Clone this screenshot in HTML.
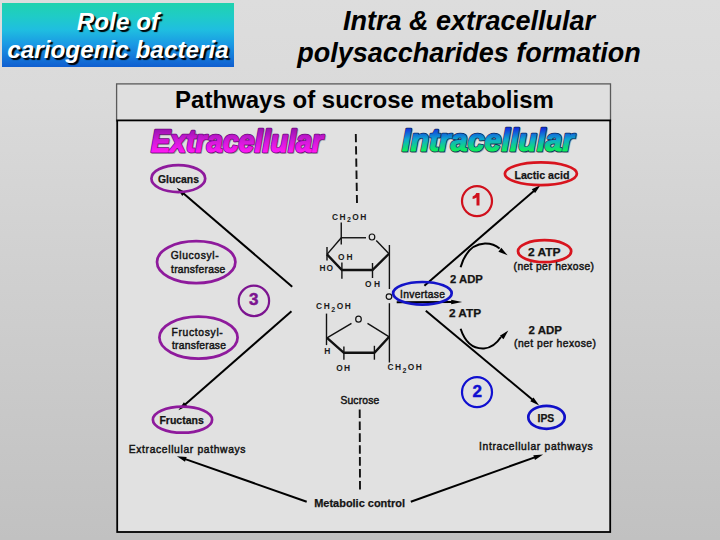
<!DOCTYPE html>
<html><head><meta charset="utf-8">
<style>
html,body{margin:0;padding:0;}
body{width:720px;height:540px;overflow:hidden;position:relative;
background:linear-gradient(to bottom,#dddddd 0%,#dadada 18%,#d0d0d0 50%,#c1c1c1 100%);
font-family:"Liberation Sans",sans-serif;}
#rb{position:absolute;left:2px;top:3px;width:232px;height:64px;
background:linear-gradient(to bottom,#20d2ae 0%,#1fcbc8 22%,#1fbee0 42%,#1a98e4 65%,#0f5ed0 100%);}
.t{position:absolute;white-space:nowrap;}
#rb1,#rb2{position:absolute;color:#fff;font-style:italic;font-weight:bold;font-size:24.3px;
text-shadow:2px 2px 1px #000;left:0;width:232px;text-align:center;line-height:28px;}
#ti{position:absolute;left:269px;width:400px;text-align:center;font-weight:bold;font-style:italic;
font-size:27px;line-height:31.5px;top:6px;color:#000;}
#hdr{position:absolute;left:116px;top:83px;width:495px;height:36px;}
#hdrt{position:absolute;left:1px;width:495px;top:5px;text-align:center;font-weight:bold;font-size:24px;line-height:24px;color:#000;}
svg{position:absolute;left:0;top:0;}
</style></head><body>
<div id="rb"><div id="rb1" style="top:4.5px">Role of</div><div id="rb2" style="top:33px">cariogenic bacteria</div></div>
<div id="ti">Intra &amp; extracellular<br>polysaccharides formation</div>
<svg width="720" height="540" style="position:absolute;left:0;top:0">
<rect x="116.6" y="83.9" width="493.9" height="37" fill="#dfdfdf" stroke="#5a5a5a" stroke-width="1.3"/>
<rect x="117.2" y="120.4" width="493" height="411.6" fill="#e1e1e1" stroke="#000" stroke-width="1.8"/>
</svg>
<div id="hdr"><div id="hdrt">Pathways of sucrose metabolism</div></div>
<svg width="720" height="540" viewBox="0 0 720 540">
<defs>
<linearGradient id="gx" gradientUnits="userSpaceOnUse" x1="0" y1="129" x2="0" y2="152">
<stop offset="0" stop-color="#9a14b0"/><stop offset="0.5" stop-color="#d01ad8"/><stop offset="1" stop-color="#ff18f4"/>
</linearGradient>
<linearGradient id="gi" gradientUnits="userSpaceOnUse" x1="0" y1="127.5" x2="0" y2="151">
<stop offset="0" stop-color="#1428e0"/><stop offset="0.5" stop-color="#10a8d0"/><stop offset="1" stop-color="#10f05a"/>
</linearGradient>
</defs>
<!-- WordArt -->
<g font-family="Liberation Sans" font-weight="bold" font-style="italic" font-size="32" stroke-linejoin="round">
<text x="152" y="153" textLength="172" lengthAdjust="spacingAndGlyphs" fill="#000" fill-opacity="0.25" stroke="#000" stroke-opacity="0.25" stroke-width="2">Extracellular</text>
<text x="151" y="151.7" textLength="172" lengthAdjust="spacingAndGlyphs" fill="#6a0a7a" stroke="#6a0a7a" stroke-width="2.6">Extracellular</text>
<text x="151" y="151.7" textLength="172" lengthAdjust="spacingAndGlyphs" fill="url(#gx)" stroke="url(#gx)" stroke-width="1.2">Extracellular</text>
<text x="403" y="151.5" textLength="172" lengthAdjust="spacingAndGlyphs" fill="#000" fill-opacity="0.25" stroke="#000" stroke-opacity="0.25" stroke-width="2">Intracellular</text>
<text x="402" y="150.6" textLength="172" lengthAdjust="spacingAndGlyphs" fill="#0a2a5a" stroke="#0a2a5a" stroke-width="2.6">Intracellular</text>
<text x="402" y="150.6" textLength="172" lengthAdjust="spacingAndGlyphs" fill="url(#gi)" stroke="url(#gi)" stroke-width="1.2">Intracellular</text>
</g>
<!-- dashed -->
<line x1="355.8" y1="134" x2="357" y2="203" stroke="#111" stroke-width="1.9" stroke-dasharray="8.3,3.9"/>
<line x1="359.7" y1="409.5" x2="360" y2="491" stroke="#111" stroke-width="1.9" stroke-dasharray="8.6,3.3"/>
<!-- arrows -->
<g stroke="#000" stroke-width="2" fill="none">
<line x1="292.2" y1="286.7" x2="181.8" y2="192.1"/><polygon points="176.7,187.8 185.5,192.1 182.3,195.9" fill="#000" stroke="none"/>
<line x1="291.5" y1="311.2" x2="183.4" y2="405.9"/><polygon points="178.4,410.3 183.9,402.2 187.2,405.9" fill="#000" stroke="none"/>
<line x1="424.4" y1="285.7" x2="535.6" y2="189.4"/><polygon points="540.6,185.0 535.1,193.1 531.8,189.3" fill="#000" stroke="none"/>
<line x1="425.8" y1="310.7" x2="534.1" y2="401.1"/><polygon points="539.2,405.4 530.3,401.2 533.5,397.4" fill="#000" stroke="none"/>
<line x1="306.7" y1="501.7" x2="183.2" y2="458.4"/><polygon points="176.9,456.2 186.7,457.0 185.0,461.7" fill="#000" stroke="none"/>
<line x1="410.8" y1="501.7" x2="536.8" y2="456.6"/><polygon points="543.1,454.4 535.0,460.0 533.3,455.2" fill="#000" stroke="none"/>
<line x1="396.7" y1="302.2" x2="454.5" y2="302.0"/><polygon points="462.2,302.0 451.2,304.3 451.2,299.7" fill="#000" stroke="none"/>
<path d="M460.6,267.2 C465,252 474,244 485,243.6 C491,243.5 496,245.5 499.6,248.6"/>
<polygon points="507.6,255.3 498.4,251.8 501.3,247.7" fill="#000" stroke="none"/>
<path d="M460.6,328.7 C465,342 473,349 484,348.4 C492,348 497,343 501,337"/>
<polygon points="508.3,330.6 503.5,339.2 499.9,335.7" fill="#000" stroke="none"/>
</g>
<!-- sugar rings -->
<g stroke="#111" fill="none" stroke-linecap="butt">
<g stroke-width="1.4">
<line x1="341.25" y1="237.75" x2="366" y2="237.75"/>
<line x1="376.25" y1="240.6" x2="389" y2="253.75"/>
<line x1="327" y1="254.4" x2="341.25" y2="237.75"/>
<line x1="341.25" y1="222.5" x2="341.25" y2="244.4"/>
<line x1="327" y1="246.9" x2="327" y2="260.6"/>
<line x1="341.9" y1="262.5" x2="341.9" y2="278.75"/>
<line x1="372.5" y1="263" x2="372.5" y2="278"/>
<line x1="389.4" y1="245" x2="389.4" y2="289"/>
<line x1="389.4" y1="303.2" x2="389.4" y2="362.5"/>
<line x1="327" y1="337.8" x2="351.5" y2="323.3"/>
<line x1="367.5" y1="323.3" x2="389.2" y2="336.8"/>
<line x1="326.5" y1="313.6" x2="326.5" y2="345.1"/>
<line x1="343.9" y1="346.5" x2="343.9" y2="359.7"/>
<line x1="374.4" y1="345.8" x2="374.4" y2="359.7"/>
</g>
<g stroke-width="2.4" stroke-linejoin="miter">
<polyline points="389,253.75 372.5,270 341.9,270 327,254.4"/>
<polyline points="389.2,336.8 374.4,352.8 343.9,352.8 327,337.8"/>
</g>
<circle cx="389" cy="296.6" r="2.8" stroke-width="1.2"/>
<ellipse cx="372" cy="237" rx="2.8" ry="3" stroke-width="1.2"/>
<ellipse cx="358.5" cy="319.2" rx="2.8" ry="3" stroke-width="1.2"/>
</g>
<g font-family="Liberation Sans" font-size="8.4" font-weight="bold" fill="#1a1a1a">
<text x="331.9" y="219.6" textLength="34.4" lengthAdjust="spacing">CH<tspan font-size="7" dy="2.4">2</tspan><tspan dy="-2.4">OH</tspan></text>
<text x="338" y="259.9" textLength="14.5" lengthAdjust="spacing">OH</text>
<text x="319.4" y="271.3" textLength="13.7" lengthAdjust="spacing">HO</text>
<text x="365" y="286.9" textLength="15" lengthAdjust="spacing">OH</text>
<text x="316.1" y="309.4" textLength="34.7" lengthAdjust="spacing">CH<tspan font-size="7" dy="2.4">2</tspan><tspan dy="-2.4">OH</tspan></text>
<text x="324.2" y="354.2">H</text>
<text x="336.25" y="370.8" textLength="13.9" lengthAdjust="spacing">OH</text>
<text x="387.6" y="370.3" textLength="34.1" lengthAdjust="spacing">CH<tspan font-size="7" dy="2.4">2</tspan><tspan dy="-2.4">OH</tspan></text>
</g>
<!-- ellipses -->
<g fill="none" stroke-width="2.7">
<ellipse cx="178.3" cy="178.6" rx="26.9" ry="13.5" stroke="#8e1a9c"/>
<ellipse cx="196.2" cy="262.1" rx="39.2" ry="21" stroke="#8e1a9c"/>
<ellipse cx="198.5" cy="337.6" rx="39.1" ry="21" stroke="#8e1a9c"/>
<ellipse cx="182.5" cy="419.7" rx="29.6" ry="13" stroke="#8e1a9c"/>
<circle cx="253.9" cy="300.9" r="15.2" stroke="#7c1490" stroke-width="2.2"/>
<ellipse cx="540.9" cy="173.75" rx="36" ry="11.3" stroke="#d8141e"/>
<ellipse cx="544.6" cy="251.2" rx="26.6" ry="11" stroke="#d8141e"/>
<circle cx="477" cy="201.1" r="15" stroke="#d0101c" stroke-width="2.2"/>
<ellipse cx="422.4" cy="293.3" rx="29.3" ry="11.3" stroke="#1414c8"/>
<ellipse cx="546.5" cy="417.3" rx="18.2" ry="11.5" stroke="#1010c8"/>
<circle cx="477" cy="392.2" r="15" stroke="#1010d0" stroke-width="2.2"/>
</g>
<!-- labels -->
<g font-family="Liberation Sans" fill="#141414">
<g font-weight="bold" font-size="11" stroke="#141414" stroke-width="0.25">
<text x="158" y="182.8" textLength="41" lengthAdjust="spacingAndGlyphs">Glucans</text>
<text x="514.4" y="178.8" textLength="55" lengthAdjust="spacingAndGlyphs">Lactic acid</text>
<text x="527.9" y="256.1" textLength="32.7" lengthAdjust="spacingAndGlyphs">2 ATP</text>
<text x="450" y="283.3" textLength="32.8" lengthAdjust="spacingAndGlyphs">2 ADP</text>
<text x="448.9" y="317.2" textLength="32.2" lengthAdjust="spacingAndGlyphs">2 ATP</text>
<text x="528.6" y="333.8" textLength="33.3" lengthAdjust="spacingAndGlyphs">2 ADP</text>
<text x="537.5" y="422.1" textLength="16.7" lengthAdjust="spacingAndGlyphs">IPS</text>
<text x="159.4" y="423.9" textLength="44.5" lengthAdjust="spacingAndGlyphs">Fructans</text>
<text x="314.2" y="507" textLength="90.8" lengthAdjust="spacingAndGlyphs">Metabolic control</text>
</g>
<g font-size="10.3" stroke="#141414" stroke-width="0.45">
<text x="170.7" y="258.6" textLength="47.9" lengthAdjust="spacing">Glucosyl-</text>
<text x="171" y="272.5" textLength="54.3" lengthAdjust="spacing">transferase</text>
<text x="171.4" y="335.6" textLength="51.4" lengthAdjust="spacing">Fructosyl-</text>
<text x="172" y="349.4" textLength="54" lengthAdjust="spacing">transferase</text>
<text x="400.1" y="297.8" textLength="44.9" lengthAdjust="spacing">Invertase</text>
<text x="513.6" y="269.6" textLength="80.3" lengthAdjust="spacing">(net per hexose)</text>
<text x="514" y="346.7" textLength="82" lengthAdjust="spacing">(net per hexose)</text>
<text x="340.4" y="403.9" textLength="38.9" lengthAdjust="spacing">Sucrose</text>
<text x="128.7" y="452.6" textLength="116.8" lengthAdjust="spacing">Extracellular pathways</text>
<text x="479" y="450.2" textLength="113.7" lengthAdjust="spacing">Intracellular pathways</text>
</g>
</g>
<g font-family="Liberation Sans" font-weight="bold" font-size="17">
<text x="248.9" y="305.2" fill="#7c1490" stroke="#7c1490" stroke-width="0.5">3</text>
<text x="472.4" y="396.7" fill="#1010d0" stroke="#1010d0" stroke-width="0.5">2</text>
</g>
<path d="M476.3,193 L479.5,193 L479.5,205.6 L476.5,205.6 L476.5,197.6 Q474.8,198.8 472.6,199 L472.6,196.4 Q475.4,195.8 476.3,193 Z" fill="#d0101c"/>
</svg>
</body></html>
